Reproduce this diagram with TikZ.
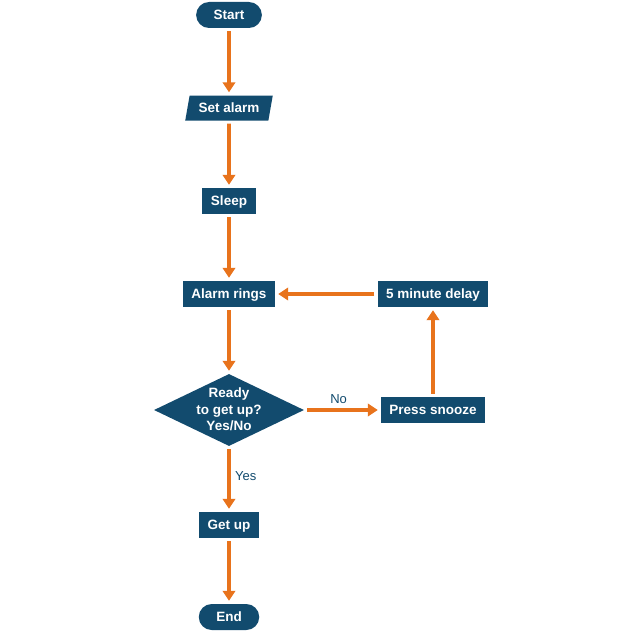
\documentclass[tikz,border=0pt]{standalone}
\usepackage{fontspec}
\setmainfont{Liberation Sans}
\usetikzlibrary{shapes.geometric}
\usetikzlibrary{arrows.meta}

\definecolor{boxblue}{HTML}{124B6E}
\definecolor{arrorange}{HTML}{E8731C}

\begin{document}
\begin{tikzpicture}[x=1pt, y=-1pt,
		block/.style={fill=boxblue, text=white, font=\fontsize{13.5}{16.5}\selectfont\bfseries},
		box/.style={block, rectangle, minimum height=26pt, text height=11pt, text depth=2pt, inner xsep=8.5pt, inner ysep=0pt},
		term/.style={box, rounded corners=13pt, inner xsep=17.5pt},
		io/.style={block, trapezium, trapezium left angle=74, trapezium right angle=106, trapezium stretches=true, minimum width=88pt, minimum height=25pt, text height=11pt, text depth=2pt, inner xsep=3pt, inner ysep=0pt},
		decision/.style={block, diamond, minimum width=150pt, minimum height=72pt, inner sep=0pt},
		flow/.style={draw=arrorange, line width=3.8pt, -{Triangle[width=12.5pt,length=10pt]}, shorten <=3pt, shorten >=3pt},
		lbl/.style={text=boxblue, font=\fontsize{13}{15}\selectfont}]

			\useasboundingbox (0,0) rectangle (624,634);

			\node[term] (start) at (229,15) {Start};
			\node[io] (set) at (229,108) {Set alarm};
			\node[box] (sleep) at (229,201) {Sleep};
			\node[box] (rings) at (229,294) {Alarm rings};
			\node[box] (delay) at (433,294) {5 minute delay};
			\node[decision] (ready) at (229,410) {\smash{\raisebox{-4.5pt}{\begin{tabular}{@{}c@{}}Ready\\to get up?\\Yes/No\end{tabular}}}};
			\node[box] (snooze) at (433,410) {Press snooze};
			\node[box] (getup) at (229,525) {Get up};
			\node[term] (end) at (229,617) {End};

			\draw[flow] (start) -- (set);
			\draw[flow] (set) -- (sleep);
			\draw[flow] (sleep) -- (rings);
			\draw[flow] (rings) -- (ready);
			\draw[flow] (ready) -- node[lbl, above=1pt, pos=0.45] (no) {No} (snooze);
			\draw[flow] (snooze) -- (delay);
			\draw[flow] (delay) -- (rings);
			\draw[flow] (ready) -- node[lbl, right=1pt, pos=0.45] (yes) {Yes} (getup);
			\draw[flow] (getup) -- (end);
		\end{tikzpicture}
\end{document}
